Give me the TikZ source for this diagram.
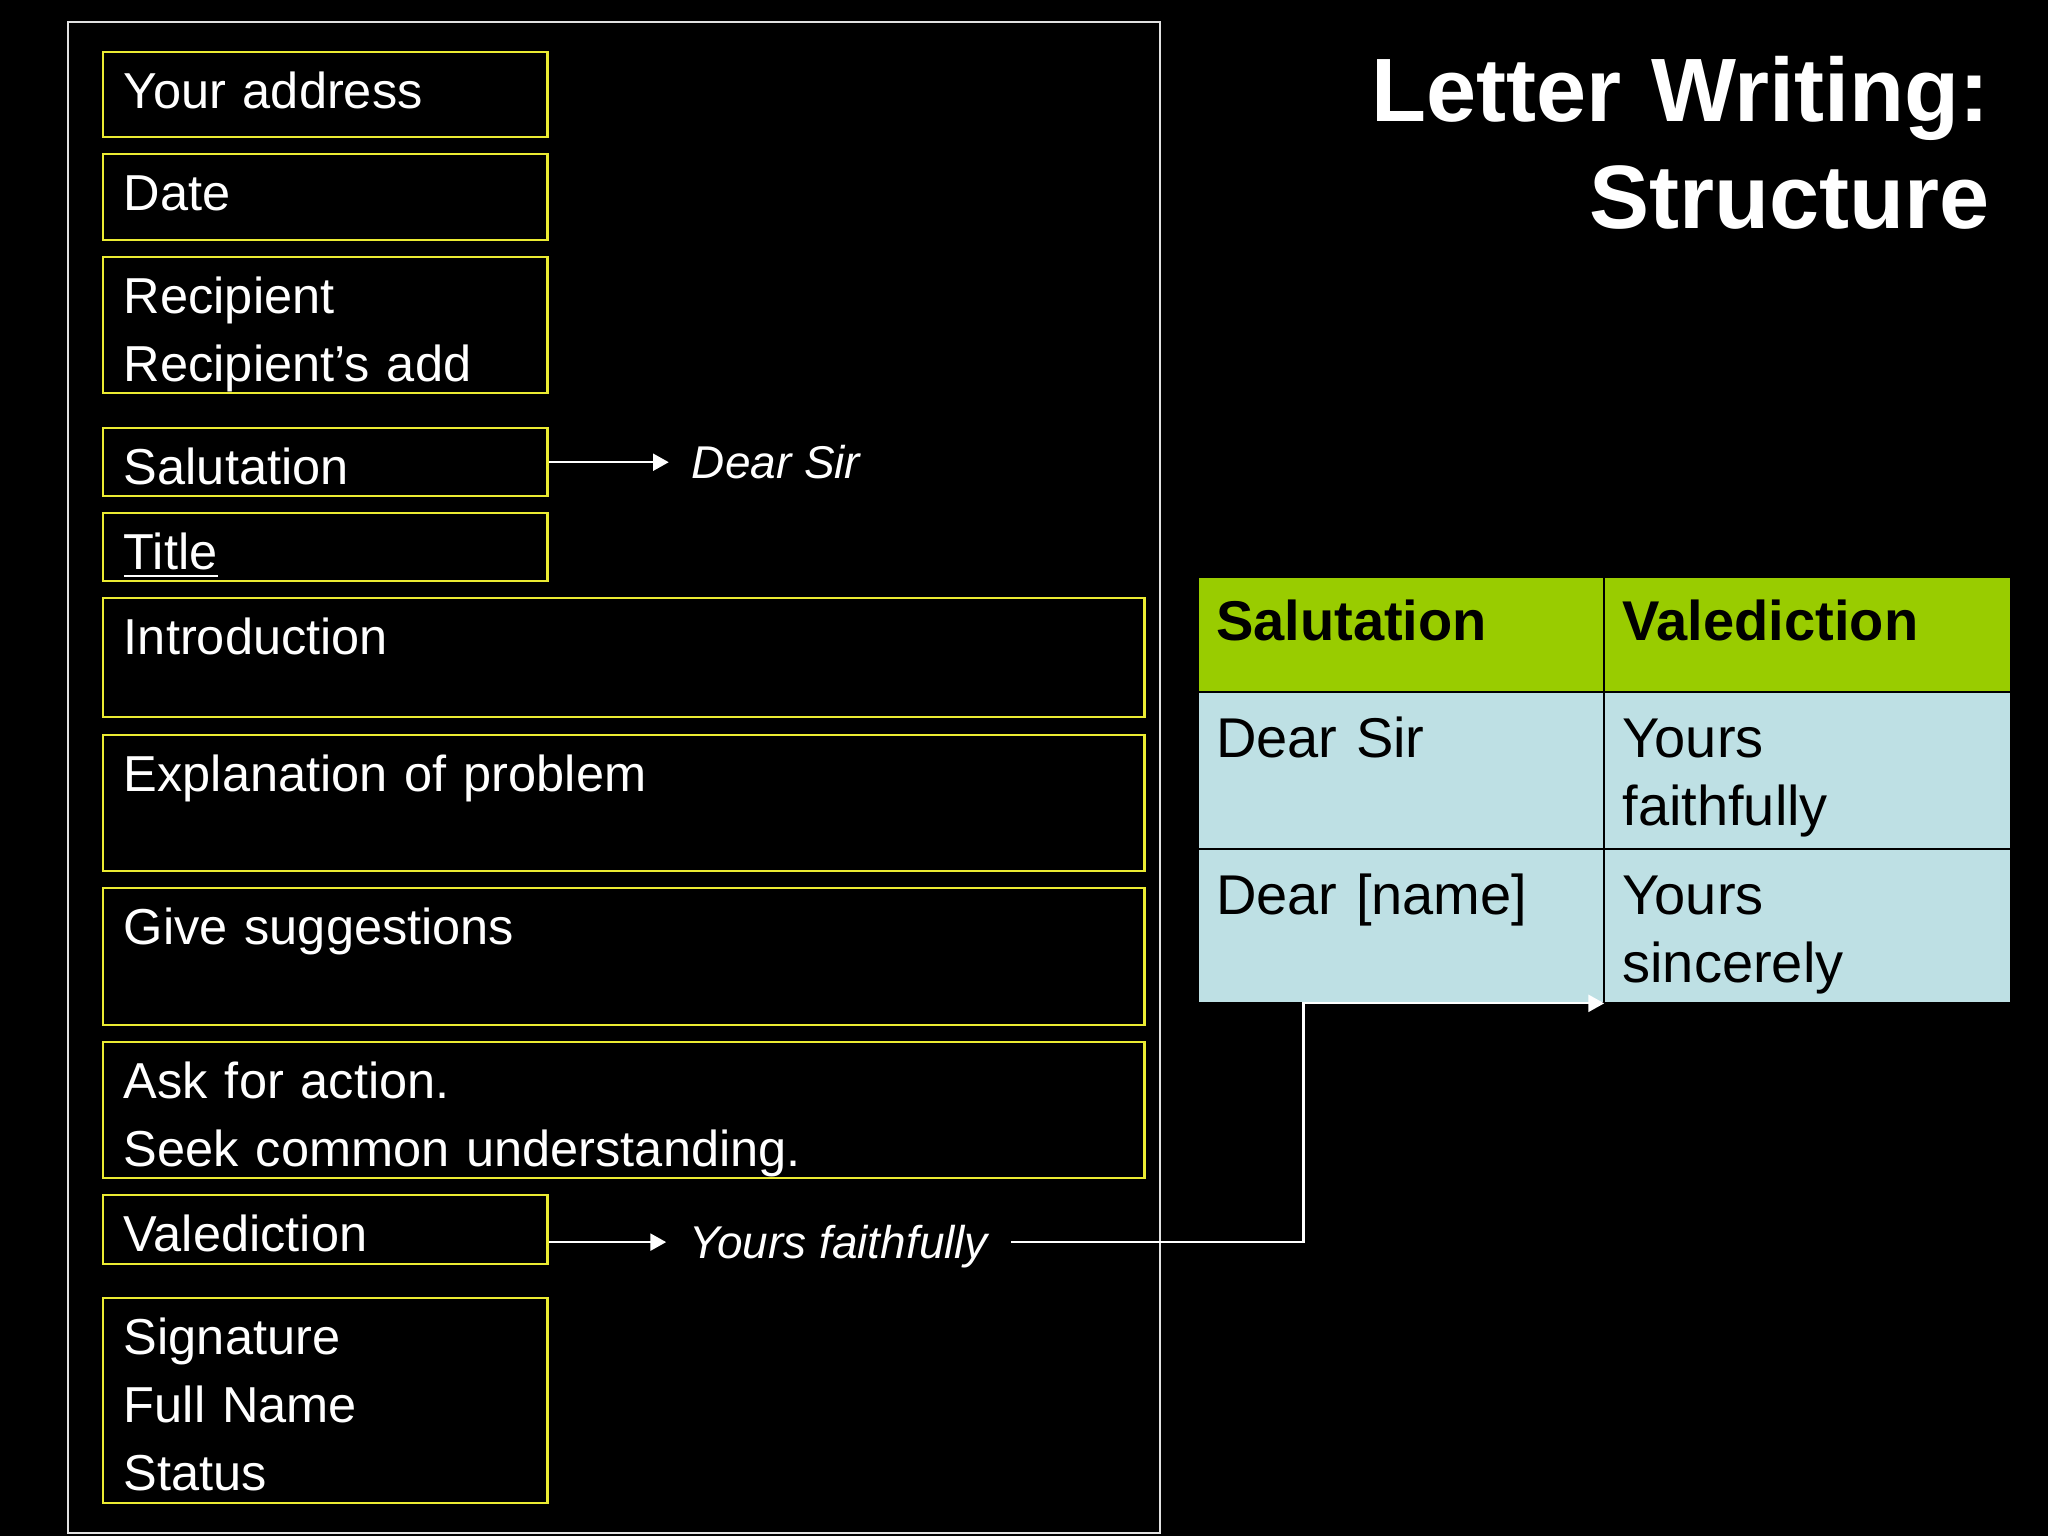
\documentclass[tikz,border=0pt]{standalone}
\usepackage{fontspec}
\setmainfont{Liberation Sans}
\usetikzlibrary{positioning}
\usetikzlibrary{arrows.meta}
\definecolor{boxyellow}{RGB}{235,235,50}
\definecolor{headgreen}{RGB}{153,204,0}
\definecolor{cellblue}{RGB}{190,224,228}
\definecolor{framegray}{RGB}{225,225,225}

\begin{document}
\begin{tikzpicture}[x=0.01cm, y=-0.01cm,
    part/.style={draw=boxyellow, line width=0.5pt, anchor=north west,
      inner xsep=0.16cm, inner ysep=0pt, text height=0.43cm, text=white,
      align=left, font=\fontsize{11pt}{14.8pt}\selectfont},
    short/.style={part, text width=3.08cm},
    long/.style={part, text width=7.65cm},
    example/.style={text=white, font=\fontsize{10pt}{12pt}\selectfont\itshape,
      inner xsep=0.17cm, inner ysep=0pt, text height=0.25cm, text depth=0pt},
    cell/.style={draw=black, line width=0.45pt, outer sep=0pt, inner xsep=0.14cm,
      inner ysep=0pt, text width=2.83cm, align=left,
      font=\fontsize{12.2pt}{14.8pt}\selectfont},
    head/.style={cell, fill=headgreen, text height=0.48cm, text depth=0.40cm,
      font=\fontsize{12.2pt}{14.8pt}\selectfont\bfseries},
    body/.style={cell, fill=cellblue, text height=0.50cm},
    link/.style={draw=white, line width=0.45pt,
      -{Triangle[length=0.12cm, width=0.13cm]}}
  ]
  \fill[black] (0,0) rectangle (1568,1176);
  \useasboundingbox (0,0) rectangle (1568,1176);

  % the letter
  \draw[framegray, line width=0.45pt] (52,17) rectangle (888,1174);

  \node[short, text depth=0.22cm] (addr) at (78,39) {Your address};
  \node[short, text depth=0.23cm] (date) at (78,117) {Date};
  \node[short, text depth=0.61cm] (recip) at (78,196) {Recipient\\Recipient’s add};
  \node[short, text depth=0.09cm] (salut) at (78,327) {Salutation};
  \node[short, text depth=0.09cm] (title) at (78,392) {\underline{Title}};
  \node[long, text depth=0.48cm] (intro) at (78,457) {Introduction};
  \node[long, text depth=0.61cm] (expl) at (78,562) {Explanation of problem};
  \node[long, text depth=0.62cm] (sugg) at (78,679) {Give suggestions};
  \node[long, text depth=0.61cm] (action) at (78,797) {Ask for action.\\Seek common understanding.};
  \node[short, text depth=0.10cm] (valed) at (78,914) {Valediction};
  \node[short, text depth=1.14cm] (sign) at (78,993) {Signature\\Full Name\\Status};

  \node[example, right=0.92cm of salut] (dearsir) {Dear Sir};
  \draw[link] (salut.east) -- (dearsir.west);

  \node[example, anchor=west] (faithful) at (510,951) {Yours faithfully};
  \draw[link] (valed.east |- faithful.west) -- (faithful.west);

  % the table
  \node[head, anchor=north west] (hsal) at (917,442) {Salutation};
  \node[head, right=0pt of hsal] (hval) {Valediction};
  \node[body, text depth=0.70cm, below=0pt of hsal] (sir) {Dear Sir};
  \node[body, text depth=0.70cm, below=0pt of hval] (faith) {Yours\\faithfully};
  \node[body, text depth=0.68cm, below=0pt of sir] (name) {Dear [name]};
  \node[body, text depth=0.68cm, below=0pt of faith] (sincere) {Yours\\sincerely};

  \coordinate (bend) at (998,951);
  \draw[link] (faithful.east) -- (bend) |- (sincere.south west);

  % heading
  \node[text=white, font=\fontsize{19.6pt}{23.3pt}\selectfont\bfseries,
    text width=6cm, align=right, inner sep=0pt, anchor=base east]
    (heading) at (1524,93) {Letter Writing:\\Structure};
\end{tikzpicture}
\end{document}
